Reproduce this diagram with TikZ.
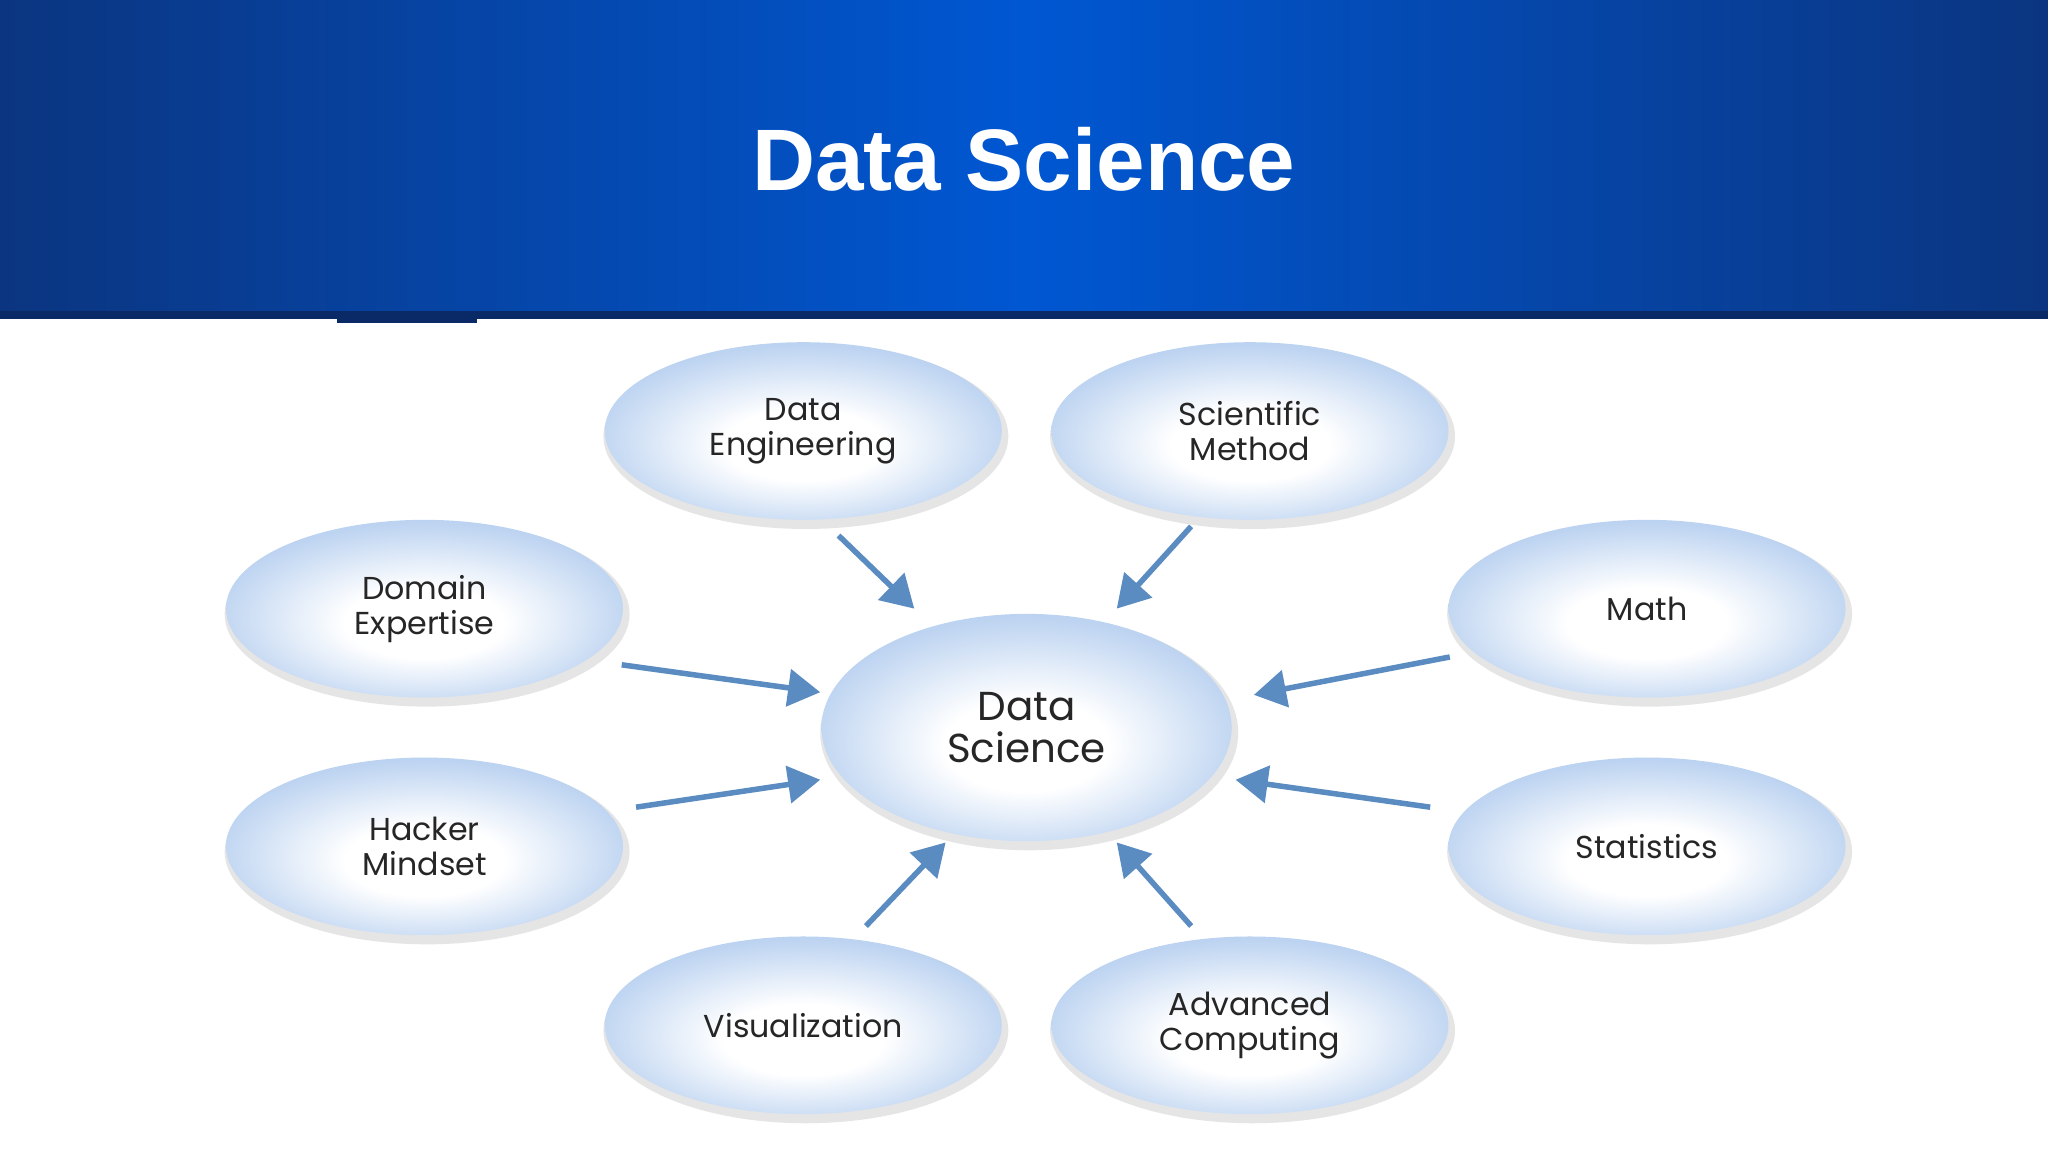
\documentclass[tikz,border=0pt]{standalone}
\usepackage{fontspec}
\setmainfont{Poppins}
\newfontfamily\titlefont{Liberation Sans}
\usetikzlibrary{arrows.meta,shapes.geometric}
\definecolor{hdark}{HTML}{0B3580}
\definecolor{hmid}{HTML}{0057D2}
\definecolor{bub}{HTML}{8AB2E6}
\definecolor{arr}{HTML}{5A8CC2}
\pgfdeclareradialshading{bubshade}{\pgfpoint{0bp}{-5bp}}{color(0bp)=(white); color(10bp)=(white); color(26bp)=(bub!55); color(40bp)=(bub!90); color(50bp)=(bub)}
\tikzset{
 bubble/.style={align=center, font=\fontsize{6.9}{7.6}\selectfont, text=black!85},
 link/.style={draw=arr, line width=1.2pt, -{Triangle[length=7pt,width=8pt]}},
}
\begin{document}
\begin{tikzpicture}[x=0.01cm,y=-0.01cm]
\useasboundingbox (0,0) rectangle (1568,882);
\fill[white] (0,0) rectangle (1568,882);
\shade[left color=hdark, right color=hdark, middle color=hmid] (0,0) rectangle (1568,243);
\fill[hdark!80!black] (0,238) rectangle (1568,244);
\fill[hdark!80!black] (258,243) rectangle (365,247);
\node[text=white, font=\titlefont\bfseries\fontsize{19}{22}\selectfont] (title) at (784,122) {Data Science};
\foreach \x/\y/\a/\b in {615/330/152/68, 957/330/152/68, 325/466/152/68, 1261/466/152/68, 325/648/152/68, 1261/648/152/68, 615/785/152/68, 957/785/152/68, 786/557/157/87}
  \fill[black!10] (\x+2,\y+4) ellipse [x radius=\a+3, y radius=\b+3];
\foreach \x/\y/\a/\b in {615/330/152/68, 957/330/152/68, 325/466/152/68, 1261/466/152/68, 325/648/152/68, 1261/648/152/68, 615/785/152/68, 957/785/152/68, 786/557/157/87}
  \shade[shading=bubshade] (\x,\y) ellipse [x radius=\a, y radius=\b];
\node[bubble] (de) at (615,330) {Data\\Engineering};
\node[bubble] (sm) at (957,330) {Scientific\\Method};
\node[bubble] (dx) at (325,466) {Domain\\Expertise};
\node[bubble] (ma) at (1261,466) {Math};
\node[bubble] (hm) at (325,648) {Hacker\\Mindset};
\node[bubble] (st) at (1261,648) {Statistics};
\node[bubble] (vi) at (615,785) {Visualization};
\node[bubble] (ac) at (957,785) {Advanced\\Computing};
\node[bubble, font=\fontsize{8.8}{9.3}\selectfont] (ds) at (786,557) {Data\\Science};
\coordinate (a1s) at (642,410); \coordinate (a1e) at (700,466);
\coordinate (a2s) at (912,403); \coordinate (a2e) at (855,466);
\coordinate (a3s) at (476,509); \coordinate (a3e) at (628,530);
\coordinate (a4s) at (1110,503); \coordinate (a4e) at (960,532);
\coordinate (a5s) at (487,618); \coordinate (a5e) at (628,597);
\coordinate (a6s) at (1095,618); \coordinate (a6e) at (946,597);
\coordinate (a7s) at (663,709); \coordinate (a7e) at (724,645);
\coordinate (a8s) at (912,709); \coordinate (a8e) at (855,645);
\foreach \i in {1,...,8} \draw[link] (a\i s) -- (a\i e);
\end{tikzpicture}
\end{document}
